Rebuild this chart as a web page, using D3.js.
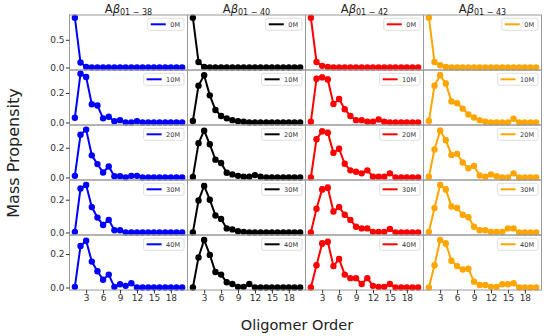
<!DOCTYPE html>
<html><head><meta charset="utf-8">
<script src="https://cdn.jsdelivr.net/npm/d3@7"></script>
<style>body{margin:0;background:#fff}svg{display:block;font-family:"DejaVu Sans",sans-serif}</style>
</head><body><svg id="c" width="550" height="336"></svg>
<script>
const orders = d3.range(1, 21);
const rowLabels = ["0M", "10M", "20M", "30M", "40M"];
const colTitles = [["A", "β", "01 − 38"], ["A", "β", "01 − 40"], ["A", "β", "01 − 42"], ["A", "β", "01 − 43"]];
const colors = ["#0000ff", "#000000", "#ff0000", "#ffa500"];
const xTicks = [3, 6, 9, 12, 15, 18];
const yTicksRow = [[0.0, 0.5], [0.0, 0.2], [0.0, 0.2], [0.0, 0.2], [0.0, 0.2]];

const ab38 = [
 [0.90,0.09,0.012,0,0,0,0,0,0,0,0,0,0,0,0,0,0,0,0,0],
 [0.032,0.331,0.308,0.124,0.115,0.028,0.039,0.009,0.016,0,0,0.009,0,0,0,0,0,0,0,0],
 [0.011,0.287,0.322,0.149,0.09,0.034,0.074,0.009,0.009,0,0.011,0.011,0,0,0,0,0,0,0,0],
 [0.004,0.269,0.29,0.155,0.091,0.046,0.077,0.014,0.014,0,0,0,0,0,0,0,0,0,0,0],
 [0.004,0.248,0.28,0.155,0.097,0.046,0.077,0.004,0.019,0.01,0.025,0,0,0,0,0,0,0,0,0]];
const ab38err = [
 [0.003,0.005,0.002,0,0,0,0,0,0,0,0,0,0,0,0,0,0,0,0,0],
 [0.004,0.008,0.012,0.012,0.01,0.006,0.006,0.003,0.004,0,0,0.003,0,0,0,0,0,0,0,0],
 [0.003,0.01,0.014,0.012,0.01,0.006,0.008,0.003,0.003,0,0.003,0.003,0,0,0,0,0,0,0,0],
 [0.002,0.01,0.013,0.012,0.01,0.007,0.008,0.004,0.004,0,0,0,0,0,0,0,0,0,0,0],
 [0.002,0.01,0.013,0.012,0.01,0.007,0.008,0.002,0.004,0.003,0.004,0,0,0,0,0,0,0,0,0]];

const ab40 = [
 [0.90,0.10,0.01,0,0,0,0,0,0,0,0,0,0,0,0,0,0,0,0,0],
 [0.01,0.25,0.32,0.184,0.085,0.044,0.028,0.016,0.009,0.005,0,0,0,0,0,0,0,0,0,0],
 [0.003,0.23,0.315,0.223,0.12,0.097,0.032,0.021,0.011,0.005,0.005,0.016,0.005,0,0,0,0,0,0,0],
 [0,0.195,0.284,0.2,0.104,0.083,0.025,0.019,0.008,0.004,0,0,0,0,0,0,0,0,0,0],
 [0,0.18,0.284,0.195,0.093,0.077,0.031,0.021,0.004,0.004,0.021,0,0,0,0,0,0,0,0,0]];
const ab40err = [
 [0.003,0.005,0.002,0,0,0,0,0,0,0,0,0,0,0,0,0,0,0,0,0],
 [0.003,0.01,0.012,0.01,0.008,0.005,0.004,0.003,0.002,0.002,0,0,0,0,0,0,0,0,0,0],
 [0.002,0.01,0.013,0.011,0.009,0.008,0.005,0.004,0.003,0.002,0.002,0.003,0.002,0,0,0,0,0,0,0],
 [0,0.01,0.015,0.011,0.009,0.008,0.004,0.004,0.002,0.002,0,0,0,0,0,0,0,0,0,0],
 [0,0.01,0.015,0.011,0.009,0.008,0.005,0.004,0.002,0.002,0.004,0,0,0,0,0,0,0,0,0]];

const ab42 = [
 [0.90,0.10,0.03,0.01,0,0,0,0,0,0,0,0,0,0,0,0,0,0,0,0],
 [0.005,0.297,0.306,0.292,0.126,0.159,0.09,0.044,0.016,0.016,0.005,0.005,0.02,0.005,0,0,0,0,0,0],
 [0,0.257,0.31,0.301,0.166,0.193,0.092,0.048,0.039,0.028,0.048,0.005,0.005,0.005,0.028,0,0,0,0,0],
 [0,0.145,0.263,0.273,0.128,0.155,0.108,0.077,0.035,0.025,0.025,0.004,0.004,0.004,0.021,0,0,0,0,0],
 [0,0.133,0.263,0.273,0.128,0.17,0.077,0.056,0.056,0.021,0.056,0.01,0.004,0.004,0.021,0,0,0,0,0]];
const ab42err = [
 [0.003,0.005,0.004,0.002,0,0,0,0,0,0,0,0,0,0,0,0,0,0,0,0],
 [0.003,0.016,0.016,0.016,0.014,0.016,0.012,0.008,0.004,0.004,0.002,0.002,0.005,0.002,0,0,0,0,0,0],
 [0,0.014,0.016,0.016,0.014,0.016,0.012,0.008,0.008,0.006,0.008,0.002,0.002,0.002,0.006,0,0,0,0,0],
 [0,0.012,0.016,0.016,0.013,0.014,0.012,0.01,0.007,0.006,0.006,0.002,0.002,0.002,0.005,0,0,0,0,0],
 [0,0.012,0.016,0.016,0.013,0.015,0.01,0.009,0.009,0.005,0.01,0.003,0.002,0.002,0.005,0,0,0,0,0]];

const ab43 = [
 [0.90,0.10,0.04,0.01,0,0,0,0,0,0,0,0,0,0,0,0,0,0,0,0],
 [0.01,0.25,0.32,0.264,0.143,0.131,0.094,0.055,0.034,0.016,0.005,0,0,0,0,0.025,0,0,0,0],
 [0.005,0.188,0.315,0.25,0.152,0.159,0.101,0.062,0.078,0.014,0.005,0.021,0.009,0,0,0.028,0,0,0,0],
 [0.004,0.149,0.29,0.263,0.159,0.149,0.108,0.093,0.035,0.014,0.014,0.004,0.004,0.004,0.025,0.025,0,0,0,0],
 [0,0.133,0.284,0.263,0.16,0.128,0.108,0.112,0.035,0.015,0.015,0.004,0.004,0.019,0.019,0.025,0,0,0,0]];
const ab43err = [
 [0.003,0.005,0.004,0.002,0,0,0,0,0,0,0,0,0,0,0,0,0,0,0,0],
 [0.003,0.014,0.016,0.015,0.014,0.014,0.012,0.009,0.007,0.004,0.002,0,0,0,0,0.006,0,0,0,0],
 [0.002,0.012,0.016,0.015,0.013,0.014,0.012,0.009,0.01,0.004,0.002,0.005,0.003,0,0,0.006,0,0,0,0],
 [0.002,0.011,0.015,0.015,0.013,0.013,0.012,0.012,0.007,0.004,0.004,0.002,0.002,0.002,0.006,0.006,0,0,0,0],
 [0,0.011,0.015,0.015,0.013,0.012,0.012,0.013,0.007,0.004,0.004,0.002,0.002,0.005,0.005,0.006,0,0,0,0]];

const seriesByCol = [ab38, ab40, ab42, ab43];
const errByCol = [ab38err, ab40err, ab42err, ab43err];

const svg = d3.select("#c");
const gridLeft = 69.5, gridTop = 15, colW = 118, rowH = 55;
const nCols = 4, nRows = 5;

const x = d3.scaleLinear().domain([1 - 0.95, 20 + 0.95]).range([0, colW]);

const yScales = d3.range(nRows).map(r => {
  let lo = Infinity, hi = -Infinity;
  for (let c = 0; c < nCols; c++) {
    seriesByCol[c][r].forEach((v, i) => {
      const e = errByCol[c][r][i];
      lo = Math.min(lo, v - e); hi = Math.max(hi, v + e);
    });
  }
  const pad = (hi - lo) * 0.05;
  return d3.scaleLinear().domain([lo - pad, hi + pad]).range([rowH, 0]);
});

for (let r = 0; r < nRows; r++) {
  for (let c = 0; c < nCols; c++) {
    const g = svg.append("g").attr("transform", `translate(${gridLeft + c * colW},${gridTop + r * rowH})`);
    const y = yScales[r];
    const vals = seriesByCol[c][r], errs = errByCol[c][r];
    const col = colors[c];
    const data = orders.map((o, i) => ({o, v: vals[i], e: errs[i]}));

    g.append("path").datum(data)
      .attr("fill", "none").attr("stroke", col).attr("stroke-width", 2)
      .attr("d", d3.line().x(d => x(d.o)).y(d => y(d.v)));
    const eb = g.append("g").attr("stroke", col).attr("stroke-width", 1);
    data.filter(d => d.e > 0).forEach(d => {
      eb.append("line").attr("x1", x(d.o)).attr("x2", x(d.o)).attr("y1", y(d.v - d.e)).attr("y2", y(d.v + d.e));
      [d.v - d.e, d.v + d.e].forEach(t => eb.append("line")
        .attr("x1", x(d.o) - 2).attr("x2", x(d.o) + 2).attr("y1", y(t)).attr("y2", y(t)));
    });
    g.selectAll("circle").data(data).join("circle")
      .attr("cx", d => x(d.o)).attr("cy", d => y(d.v)).attr("r", 3.2).attr("fill", col);

    g.append("rect").attr("width", colW).attr("height", rowH)
      .attr("fill", "none").attr("stroke", "#9a9a9a").attr("stroke-width", 1);

    const lh = 12;
    const lg = g.append("g");
    const box = lg.append("rect").attr("height", lh).attr("rx", 2)
      .attr("fill", "#fff").attr("fill-opacity", 0.85).attr("stroke", "#d6d6d6").attr("stroke-width", 0.8);
    const ln = lg.append("line").attr("x1", 3).attr("x2", 18).attr("y1", lh / 2).attr("y2", lh / 2)
      .attr("stroke", col).attr("stroke-width", 2);
    const lt = lg.append("text").attr("x", 22.5).attr("y", lh / 2 + 2.3)
      .attr("font-size", 6.5).attr("fill", "#333").text(rowLabels[r]);
    const lw = 22.5 + lt.node().getComputedTextLength() + 4;
    box.attr("width", lw);
    lg.attr("transform", `translate(${colW - 3.5 - lw},3.3)`);

    if (c === 0) {
      const ax = g.append("g").call(d3.axisLeft(y).tickValues(yTicksRow[r]).tickFormat(d3.format(".1f")).tickSize(3.5).tickPadding(1.5));
      ax.select(".domain").remove();
      ax.selectAll("line").attr("stroke", "#333");
      ax.selectAll("text").attr("font-size", 9).attr("fill", "#333").attr("font-family", "DejaVu Sans");
    }
    if (r === nRows - 1) {
      const ax = g.append("g").attr("transform", `translate(0,${rowH})`)
        .call(d3.axisBottom(x).tickValues(xTicks).tickSize(3.5).tickPadding(1));
      ax.select(".domain").remove();
      ax.selectAll("line").attr("stroke", "#333");
      ax.selectAll("text").attr("font-size", 9).attr("fill", "#333").attr("font-family", "DejaVu Sans");
    }
  }
}

colTitles.forEach((t, c) => {
  const tx = svg.append("text").attr("x", gridLeft + c * colW + colW / 2).attr("y", 12.5)
    .attr("text-anchor", "middle").attr("font-size", 11.5).attr("fill", "#222");
  tx.append("tspan").text(t[0]);
  tx.append("tspan").attr("font-style", "italic").text(t[1]);
  tx.append("tspan").attr("font-size", 8).attr("dy", 2.5).text(t[2]);
});

svg.append("text").attr("x", 297).attr("y", 330).attr("text-anchor", "middle")
  .attr("font-size", 14.5).attr("fill", "#222").text("Oligomer Order");
svg.append("text").attr("transform", "translate(18.5,153) rotate(-90)").attr("text-anchor", "middle")
  .attr("font-size", 16).attr("fill", "#222").text("Mass Propensity");
</script></body></html>
